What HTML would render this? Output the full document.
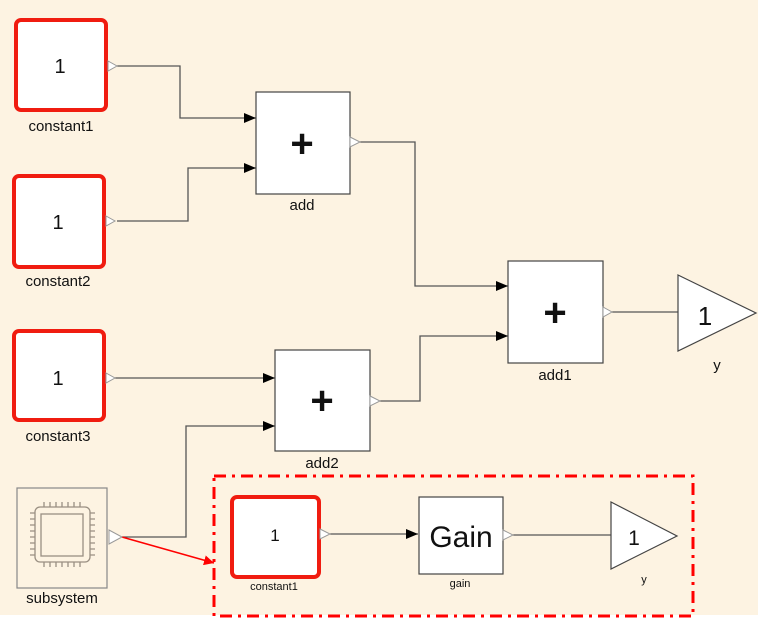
<!DOCTYPE html>
<html><head><meta charset="utf-8"><style>
html,body{margin:0;padding:0;background:#fff;}
svg{display:block;}
text{font-family:"Liberation Sans",Arial,sans-serif;fill:#111;}
</style></head><body>
<svg width="761" height="620" viewBox="0 0 761 620" xmlns="http://www.w3.org/2000/svg">
<defs>
<marker id="ar" markerWidth="12" markerHeight="10" refX="12" refY="5" orient="auto" markerUnits="userSpaceOnUse"><path d="M0,0 L12,5 L0,10 Z" fill="#000"/></marker>
<marker id="rar" markerWidth="10" markerHeight="10" refX="10" refY="5" orient="auto" markerUnits="userSpaceOnUse"><path d="M0,0 L10,5 L0,10 Z" fill="#f00"/></marker>
</defs>
<rect x="0" y="0" width="758" height="615" fill="#fdf3e2"/>
<g fill="none" stroke="#555" stroke-width="1.3">
<path d="M117,66 H180 V118 H256" marker-end="url(#ar)"/>
<path d="M117,221 H188 V168 H256" marker-end="url(#ar)"/>
<path d="M360,142 H415 V286 H508" marker-end="url(#ar)"/>
<path d="M380,401 H420 V336 H508" marker-end="url(#ar)"/>
<path d="M115,378 H275" marker-end="url(#ar)"/>
<path d="M122,537 H186 V426 H275" marker-end="url(#ar)"/>
<path d="M612,312 H678"/>
<path d="M330,534 H418" marker-end="url(#ar)"/>
<path d="M513,535 H611"/>
</g>
<path d="M122,537 L214,563" stroke="#f00" stroke-width="1.5" fill="none" marker-end="url(#rar)"/>
<rect x="214" y="476" width="479" height="140" fill="none" stroke="#f00" stroke-width="3" stroke-dasharray="12,6,3,6"/>
<g stroke="#f01c10" stroke-width="4" fill="#fff">
<rect x="16" y="20" width="90" height="90" rx="5"/>
<rect x="14" y="176" width="90" height="91" rx="5"/>
<rect x="14" y="331" width="90" height="89" rx="5"/>
<rect x="232" y="497" width="87" height="80" rx="5"/>
</g>
<g font-size="20" text-anchor="middle">
<text x="60" y="73">1</text><text x="58" y="229">1</text><text x="58" y="385">1</text>
</g>
<text x="275" y="541" font-size="17" text-anchor="middle">1</text>
<g font-size="15" text-anchor="middle">
<text x="61" y="131">constant1</text><text x="58" y="286">constant2</text><text x="58" y="441">constant3</text>
<text x="62" y="603">subsystem</text>
<text x="302" y="210">add</text><text x="555" y="380">add1</text><text x="322" y="468">add2</text>
<text x="717" y="370">y</text>
</g>
<g font-size="11" text-anchor="middle">
<text x="274" y="590">constant1</text><text x="460" y="587">gain</text><text x="644" y="583">y</text>
</g>
<g fill="#fff" stroke="#444" stroke-width="1.2">
<rect x="256" y="92" width="94" height="102"/>
<rect x="508" y="261" width="95" height="102"/>
<rect x="275" y="350" width="95" height="101"/>
<rect x="419" y="497" width="84" height="77"/>
<path d="M678,275 L756,313 L678,351 Z"/>
<path d="M611,502 L677,536 L611,569 Z"/>
<rect x="17" y="488" width="90" height="100" fill="#fdf3e2" stroke="#888"/>
</g>
<g font-size="40" font-weight="bold" text-anchor="middle">
<text x="302" y="157">+</text><text x="555" y="326">+</text><text x="322" y="414">+</text>
</g>
<text x="461" y="547" font-size="30" text-anchor="middle">Gain</text>
<text x="705" y="325" font-size="26" text-anchor="middle">1</text>
<text x="634" y="545" font-size="21" text-anchor="middle">1</text>
<g fill="#fff" stroke="#999" stroke-width="1">
<path d="M108,61 L117,66 L108,71 Z"/>
<path d="M106,216 L115,221 L106,226 Z"/>
<path d="M106,373 L115,378 L106,383 Z"/>
<path d="M350,137 L360,142 L350,147 Z"/>
<path d="M603,307 L612,312 L603,317 Z"/>
<path d="M370,396 L380,401 L370,406 Z"/>
<path d="M109,530 L122,537 L109,544 Z"/>
<path d="M320,529 L330,534 L320,539 Z"/>
<path d="M503,530 L513,535 L503,540 Z"/>
</g>
<g fill="none" stroke="#9a8f82" stroke-width="1.3">
<rect x="35" y="507" width="55" height="55" rx="5"/>
<rect x="41" y="514" width="42" height="42"/>
<path d="M44,502v5M50,502v5M56,502v5M62,502v5M68,502v5M74,502v5M80,502v5
M44,562v5M50,562v5M56,562v5M62,562v5M68,562v5M74,562v5M80,562v5
M30,513h5M30,519h5M30,525h5M30,531h5M30,537h5M30,543h5M30,549h5M30,555h5
M90,513h5M90,519h5M90,525h5M90,531h5M90,537h5M90,543h5M90,549h5M90,555h5"/>
</g>
</svg>
</body></html>
